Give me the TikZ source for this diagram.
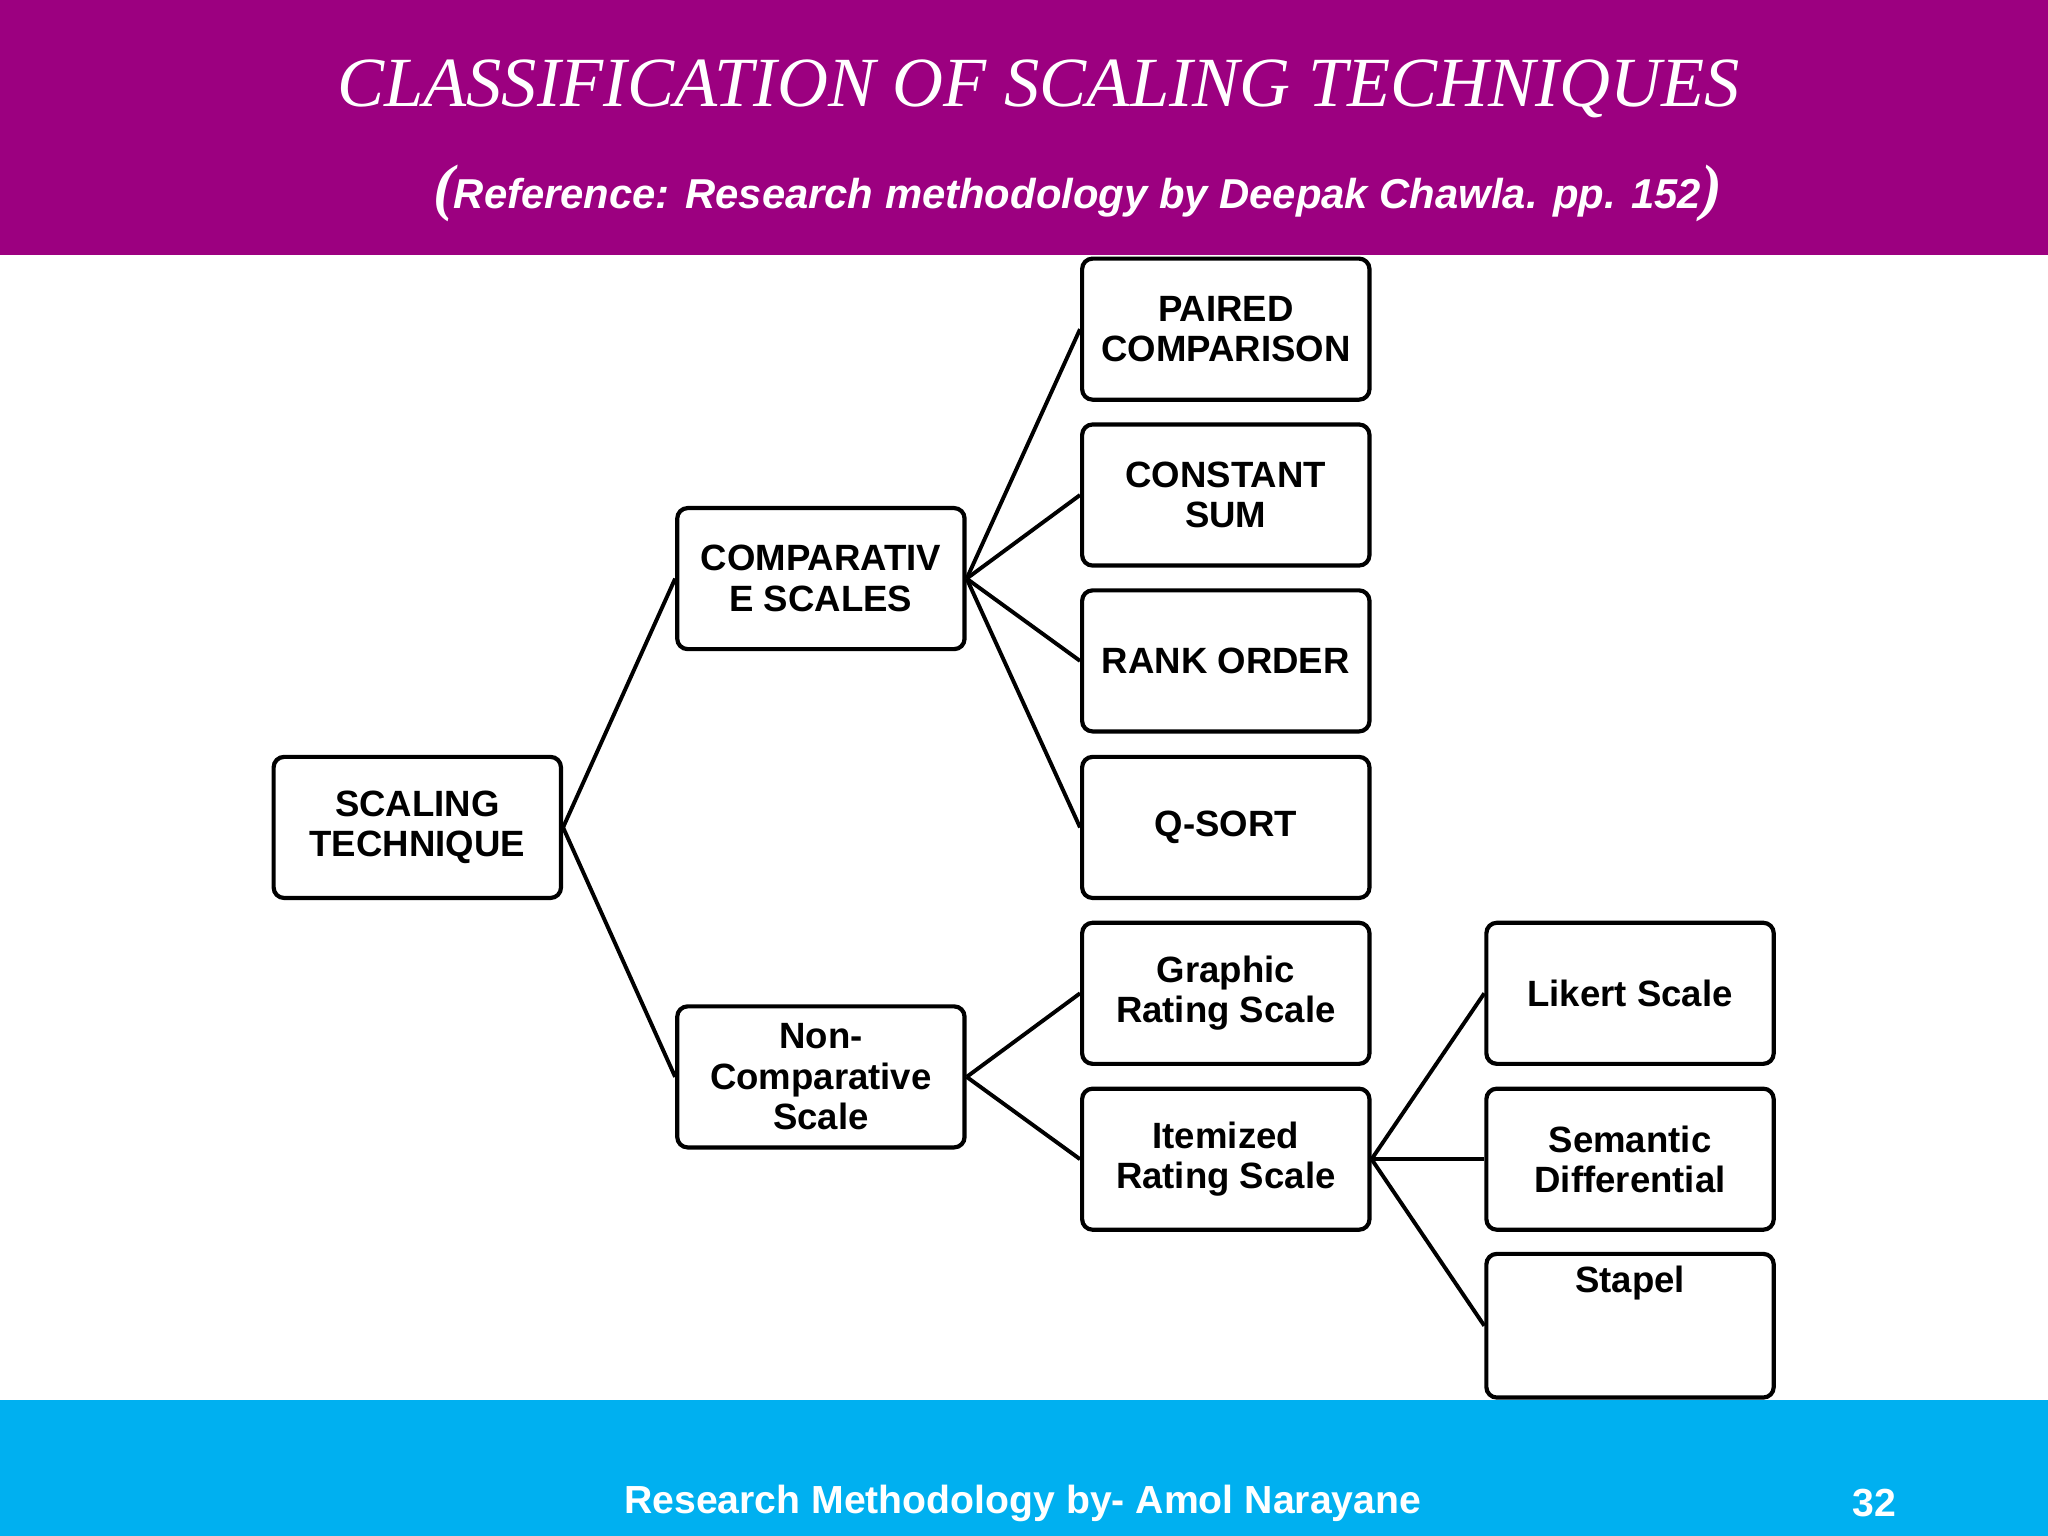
\documentclass[tikz,border=0pt]{standalone}
\usepackage{fontspec}
\setmainfont{Liberation Sans}
\newfontfamily\titlefont{Liberation Serif}
\begin{document}
\begin{tikzpicture}[x=0.5pt,y=-0.5pt,
  box/.style={draw=black,line width=1.6pt,rounded corners=4pt,fill=white,minimum width=110pt,minimum height=54pt,align=center,font=\bfseries\fontsize{14}{15.5}\selectfont,inner sep=2pt},
  link/.style={line width=1.5pt}]
\useasboundingbox (0,0) rectangle (1568,1176);
\fill[white] (0,0) rectangle (1568,1176);
\fill[fill={rgb,255:red,156;green,0;blue,128}] (0,0) rectangle (1568,195);
\fill[fill={rgb,255:red,0;green,176;blue,240}] (0,1072) rectangle (1568,1176);
\node[text=white,font=\titlefont\itshape\fontsize{27}{30}\selectfont] (title) at (795,68) {CLASSIFICATION OF SCALING TECHNIQUES};
\node[text=white,font=\bfseries\itshape\fontsize{16}{18}\selectfont] (ref) at (825,148) {{\titlefont\fontsize{24}{24}\selectfont(}Reference: Research methodology by Deepak Chawla. pp. 152{\titlefont\fontsize{24}{24}\selectfont)}};
\node[text=white,font=\bfseries\fontsize{15}{17}\selectfont] (foot) at (783,1151) {Research Methodology by- Amol Narayane};
\node[text=white,font=\bfseries\fontsize{15}{17}\selectfont] (pg) at (1435,1151) {32};

\node[box] (st) at (319.5,633.5) {SCALING\\TECHNIQUE};
\node[box] (cs) at (628.5,443) {COMPARATIV\\E SCALES};
\node[box] (nc) at (628.5,824.5) {Non-\\Comparative\\Scale};
\node[box] (pc) at (938.5,252) {PAIRED\\COMPARISON};
\node[box] (cn) at (938.5,379) {CONSTANT\\SUM};
\node[box] (ro) at (938.5,506) {RANK ORDER};
\node[box] (qs) at (938.5,633.5) {Q-SORT};
\node[box] (gr) at (938.5,760.5) {Graphic\\Rating Scale};
\node[box] (it) at (938.5,887.5) {Itemized\\Rating Scale};
\node[box] (lk) at (1248,760.5) {Likert Scale};
\node[box] (sd) at (1248,887.5) {Semantic\\Differential};
\node[box,minimum height=55pt] (sp) at (1248,1015) {Stapel\\[20pt]\mbox{}};

\foreach \a/\b in {st/cs,st/nc,cs/pc,cs/cn,cs/ro,cs/qs,nc/gr,nc/it,it/lk,it/sd,it/sp}
  \draw[link] (\a.east) -- (\b.west);
\end{tikzpicture}
\end{document}
